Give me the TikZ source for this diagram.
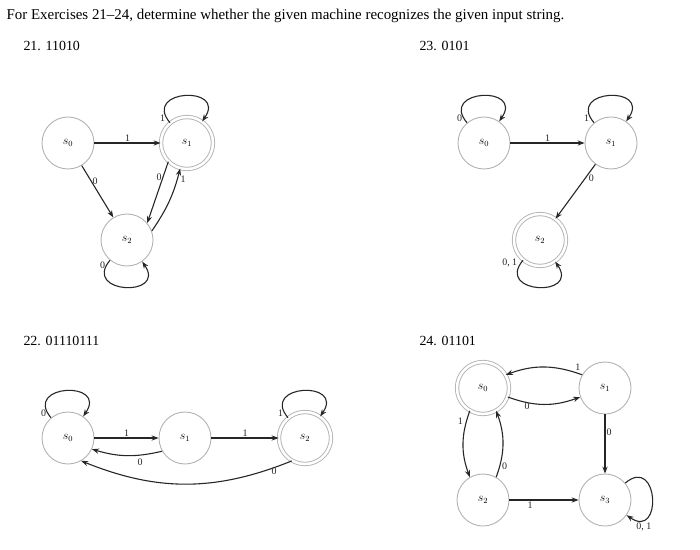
\documentclass[tikz,border=0pt]{standalone}
\usepackage{fontspec}
\setmainfont{Liberation Serif}
\usetikzlibrary{arrows.meta}
\begin{document}
\begin{tikzpicture}[x=1bp,y=-1bp,
  st/.style={circle,draw=gray!60,line width=0.9pt,minimum size=52bp,inner sep=0pt,font=\large},
  acc/.style={st,double,double distance=2.5pt},
  ar/.style={-{Stealth[length=7pt]},line width=1.1pt,black!85},
  lb/.style={font=\normalsize,inner sep=1pt},
  lp/.style={ar,min distance=22bp,looseness=3.5}]
\useasboundingbox (0,0) rectangle (700,550);
\node[anchor=west,font=\fontsize{15}{17}\selectfont] (title) at (3,16) {For Exercises 21--24, determine whether the given machine recognizes the given input string.};
\node[anchor=west,font=\fontsize{14}{16}\selectfont] (e21) at (20,46) {21. 11010};
\node[anchor=west,font=\fontsize{14}{16}\selectfont] (e23) at (416,46) {23. 0101};
\node[anchor=west,font=\fontsize{14}{16}\selectfont] (e22) at (20,341) {22. 01110111};
\node[anchor=west,font=\fontsize{14}{16}\selectfont] (e24) at (416,341) {24. 01101};
% 21
\node[st] (a0) at (68,143) {$s_0$};
\node[acc] (a1) at (187,143) {$s_1$};
\node[st] (a2) at (127,240) {$s_2$};
\draw[ar] (a0) -- node[lb,above]{1} (a1);
\draw[ar] (a0) -- node[lb,pos=0.3,right]{0} (a2);
\draw[ar] (a1.225) -- node[lb,pos=0.25,left]{0} (a2.40);
\draw[ar] (a2.20) to[bend right=10] node[lb,pos=0.85,right=2pt]{1} (a1.255);
\draw[lp] (a1) to[out=130,in=55] node[lb,pos=0.05,left]{1} (a1);
\draw[lp] (a2) to[out=-130,in=-55] node[lb,pos=0.05,left]{0} (a2);
% 23
\node[st] (b0) at (484,143) {$s_0$};
\node[st] (b1) at (611,143) {$s_1$};
\node[acc] (b2) at (540,240) {$s_2$};
\draw[ar] (b0) -- node[lb,above]{1} (b1);
\draw[ar] (b1) -- node[lb,pos=0.25,right=2pt]{0} (b2);
\draw[lp] (b0) to[out=130,in=55] node[lb,pos=0.05,left]{0} (b0);
\draw[lp] (b1) to[out=130,in=55] node[lb,pos=0.05,left]{1} (b1);
\draw[lp] (b2) to[out=-130,in=-55] node[lb,pos=0.03,left=2pt]{0, 1} (b2);
% 22
\node[st] (c0) at (68,438) {$s_0$};
\node[st] (c1) at (185,438) {$s_1$};
\node[acc] (c2) at (305,438) {$s_2$};
\draw[ar] (c0) -- node[lb,above]{1} (c1);
\draw[ar] (c1) -- node[lb,above]{1} (c2);
\draw[ar] (c1.210) to[bend left=15] node[lb,pos=0.3,below=2pt]{0} (c0.-25);
\draw[ar] (c2.240) to[bend left=22] node[lb,pos=0.06,below left]{0} (c0.-60);
\draw[lp] (c0) to[out=130,in=55] node[lb,pos=0.05,left]{0} (c0);
\draw[lp] (c2) to[out=130,in=55] node[lb,pos=0.05,left]{1} (c2);
% 24
\node[acc] (d0) at (483,388) {$s_0$};
\node[st] (d1) at (605,388) {$s_1$};
\node[st] (d2) at (483,500) {$s_2$};
\node[st] (d3) at (605,500) {$s_3$};
\draw[ar] (d1.150) to[bend right=20] node[lb,pos=0.1,above right]{1} (d0.30);
\draw[ar] (d0.-20) to[bend right=20] node[lb,pos=0.2,below right]{0} (d1.-160);
\draw[ar] (d1) -- node[lb,pos=0.3,right]{0} (d3);
\draw[ar] (d0.240) to[bend right=20] node[lb,pos=0.15,left=2pt]{1} (d2.120);
\draw[ar] (d2.60) to[bend right=20] node[lb,pos=0.15,right=1pt]{0} (d0.-60);
\draw[ar] (d2) -- node[lb,pos=0.3,below]{1} (d3);
\draw[lp] (d3) to[out=40,in=-35] node[lb,pos=0.97,xshift=14pt,yshift=-10pt]{0, 1} (d3);
\end{tikzpicture}
\end{document}
